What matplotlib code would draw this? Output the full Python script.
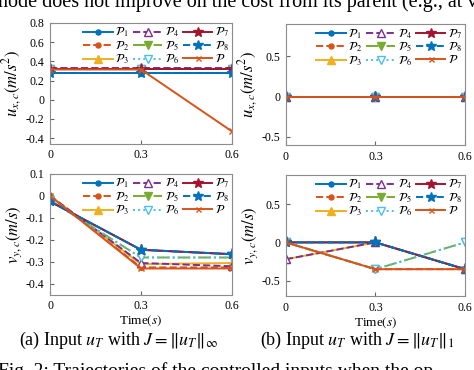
import matplotlib
matplotlib.use('Agg')
import matplotlib.pyplot as plt

plt.rcParams['font.family'] = ['Liberation Serif', 'DejaVu Serif']
plt.rcParams['mathtext.fontset'] = 'stix'

# time axis
t = [0, 0.3, 0.6]
labels = [r'$\mathcal{P}_1$', r'$\mathcal{P}_2$', r'$\mathcal{P}_3$',
          r'$\mathcal{P}_4$', r'$\mathcal{P}_5$', r'$\mathcal{P}_6$',
          r'$\mathcal{P}_7$', r'$\mathcal{P}_8$', r'$\mathcal{P}$']

# (a) J = ||u_T||_inf
ux_a = [
    [0.275, 0.275, 0.275],
    [0.32, 0.32, 0.32],
    [0.325, 0.325, 0.325],
    [0.33, 0.33, 0.33],
    [0.32, 0.32, 0.32],
    [0.32, 0.32, 0.32],
    [0.32, 0.32, 0.32],
    [0.275, 0.275, 0.275],
    [0.315, 0.315, -0.33],
]
vy_a = [
    [-0.025, -0.245, -0.265],
    [0.0, -0.325, -0.325],
    [0.0, -0.31, -0.305],
    [0.0, -0.305, -0.32],
    [-0.02, -0.28, -0.28],
    [-0.02, -0.28, -0.28],
    [-0.025, -0.245, -0.265],
    [-0.025, -0.245, -0.265],
    [0.0, -0.33, -0.33],
]

# (b) J = ||u_T||_1
ux_b = [[0.0, 0.0, 0.0] for _ in range(9)]
vy_b = [
    [0.0, 0.0, -0.35],
    [0.0, -0.35, -0.35],
    [-0.22, 0.0, -0.35],
    [-0.22, 0.0, -0.35],
    [0.0, -0.35, 0.0],
    [0.0, -0.35, 0.0],
    [0.0, 0.0, -0.35],
    [0.0, 0.0, -0.35],
    [0.0, -0.35, -0.35],
]

colors = ['#0072BD', '#D95319', '#EDB120', '#7E2F8E', '#77AC30',
          '#4DBEEE', '#A2142F', '#0072BD', '#D95319']
styles = ['-', '--', '-', '--', '-.', ':', '-', '--', '-']
markers = ['o', 'o', '^', '^', 'v', 'v', '*', '*', 'x']
filled = [True, True, True, False, True, False, True, True, True]
msizes = [4, 4, 6, 6, 6, 6, 8, 8, 4]


def draw(ax, data, ylim, yticks, yticklabels, ylabel, xlabel=False):
    for i, y in enumerate(data):
        ax.plot(t, y, linestyle=styles[i], color=colors[i], marker=markers[i],
                markersize=msizes[i], linewidth=1.4,
                markerfacecolor=colors[i] if filled[i] else 'white',
                markeredgecolor=colors[i], label=labels[i])
    ax.set_xlim(0, 0.6)
    ax.set_ylim(*ylim)
    ax.set_xticks(t)
    ax.set_xticklabels(['0', '0.3', '0.6'])
    ax.set_yticks(yticks)
    ax.set_yticklabels(yticklabels)
    ax.tick_params(direction='in', labelsize=8.5, length=3, color='0.4', pad=4)
    for s in ax.spines.values():
        s.set_color('0.55')
        s.set_linewidth(0.8)
    ax.set_ylabel(ylabel, fontsize=12, labelpad=1)
    if xlabel:
        ax.set_xlabel(r'Time$(s)$', fontsize=9.5, labelpad=1)
    ax.legend(ncol=3, loc='upper right', frameon=False, fontsize=8.5,
              handlelength=2.5, handletextpad=0.25, columnspacing=0.3,
              labelspacing=0.0, borderaxespad=0.1, borderpad=0.15,
              markerscale=0.9)


fig = plt.figure(figsize=(4.74, 3.70), dpi=100)

ax1 = fig.add_axes([0.1055, 0.611, 0.384, 0.327])
draw(ax1, ux_a, (-0.46, 0.8), [-0.4, -0.2, 0, 0.2, 0.4, 0.6, 0.8],
     ['-0.4', '-0.2', '0', '0.2', '0.4', '0.6', '0.8'], r'$u_{x,c}(m/s^2)$')

ax2 = fig.add_axes([0.603, 0.608, 0.378, 0.327])
draw(ax2, ux_b, (-0.6, 0.9), [-0.5, 0, 0.5], ['-0.5', '0', '0.5'],
     r'$u_{x,c}(m/s^2)$')

ax3 = fig.add_axes([0.1055, 0.203, 0.384, 0.327])
draw(ax3, vy_a, (-0.45, 0.1), [-0.4, -0.3, -0.2, -0.1, 0, 0.1],
     ['-0.4', '-0.3', '-0.2', '-0.1', '0', '0.1'], r'$v_{y,c}(m/s)$', xlabel=True)

ax4 = fig.add_axes([0.603, 0.200, 0.378, 0.327])
draw(ax4, vy_b, (-0.7, 0.88), [-0.5, 0, 0.5], ['-0.5', '0', '0.5'],
     r'$v_{y,c}(m/s)$', xlabel=True)

# surrounding paper text
fig.text(-0.005, 1 - 7 / 370, 'node does not improve on the cost from its parent (e.g., at v',
         fontsize=14.5, ha='left', va='baseline')
fig.text(118 / 474, 1 - 345 / 370, r'(a) Input $u_T$ with $J = \|u_T\|_\infty$',
         fontsize=13, ha='center', va='baseline')
fig.text(357 / 474, 1 - 345 / 370, r'(b) Input $u_T$ with $J = \|u_T\|_1$',
         fontsize=13, ha='center', va='baseline')
fig.text(-0.005, 1 - 376 / 370, 'Fig. 2: Trajectories of the controlled inputs when the op-',
         fontsize=14, ha='left', va='baseline')

fig.savefig('out.png', dpi=100)
